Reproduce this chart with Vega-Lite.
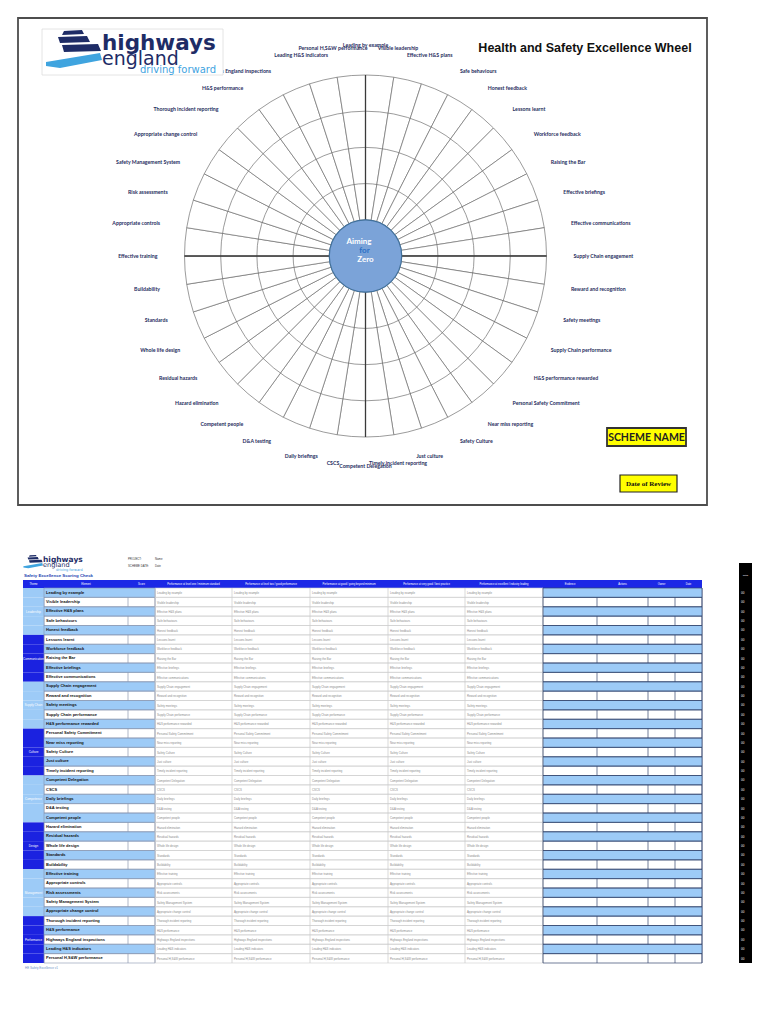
{
"$schema":"https://vega.github.io/schema/vega-lite/v6.json",
"width":768,"height":1024,
"autosize":{"type":"fit","contains":"padding"},
"padding":0,
"background":"white",
"config":{"view":{"stroke":null},"axis":{"disable":true},"legend":{"disable":true}},
"datasets":{
"aspects":[
{"k":0,"name":"Leading by example","grp":1},
{"k":1,"name":"Visible leadership","grp":1},
{"k":2,"name":"Effective H&S plans","grp":1},
{"k":3,"name":"Safe behaviours","grp":1},
{"k":4,"name":"Honest feedback","grp":1},
{"k":5,"name":"Lessons learnt","grp":2},
{"k":6,"name":"Workforce  feedback","grp":2},
{"k":7,"name":"Raising the Bar","grp":2},
{"k":8,"name":"Effective briefings","grp":2},
{"k":9,"name":"Effective communications","grp":2},
{"k":10,"name":"Supply Chain engagement","grp":3},
{"k":11,"name":"Reward and recognition","grp":3},
{"k":12,"name":"Safety meetings","grp":3},
{"k":13,"name":"Supply Chain performance","grp":3},
{"k":14,"name":"H&S performance rewarded","grp":3},
{"k":15,"name":"Personal Safety Commitment","grp":4},
{"k":16,"name":"Near miss reporting","grp":4},
{"k":17,"name":"Safety Culture","grp":4},
{"k":18,"name":"Just culture","grp":4},
{"k":19,"name":"Timely incident reporting","grp":4},
{"k":20,"name":"Competent Delegation","grp":5},
{"k":21,"name":"CSCS","grp":5},
{"k":22,"name":"Daily briefings","grp":5},
{"k":23,"name":"D&A testing","grp":5},
{"k":24,"name":"Competent  people","grp":5},
{"k":25,"name":"Hazard elimination","grp":6},
{"k":26,"name":"Residual hazards","grp":6},
{"k":27,"name":"Whole life design","grp":6},
{"k":28,"name":"Standards","grp":6},
{"k":29,"name":"Buildability","grp":6},
{"k":30,"name":"Effective training","grp":7},
{"k":31,"name":"Appropriate controls","grp":7},
{"k":32,"name":"Risk assessments","grp":7},
{"k":33,"name":"Safety Management System","grp":7},
{"k":34,"name":"Appropriate change control","grp":7},
{"k":35,"name":"Thorough incident reporting","grp":8},
{"k":36,"name":"H&S performance","grp":8},
{"k":37,"name":"Highways England inspections","grp":8},
{"k":38,"name":"Leading H&S indicators","grp":8},
{"k":39,"name":"Personal H,S&W performance","grp":8}
],
"groups":[
{"grp":1,"name":"Leadership","mid":2},
{"grp":2,"name":"Communication","mid":7},
{"grp":3,"name":"Supply Chain","mid":12},
{"grp":4,"name":"Culture","mid":17},
{"grp":5,"name":"Competence","mid":22},
{"grp":6,"name":"Design","mid":27},
{"grp":7,"name":"Management","mid":32},
{"grp":8,"name":"Performance","mid":37}
],
"cols":[
{"col":"A","x0":23,"xm":33.5,"x1":44,"kind":"id","head":"Theme"},
{"col":"B","x0":44,"xm":86,"x1":128,"kind":"id","head":"Element"},
{"col":"C","x0":128,"xm":141.5,"x1":155,"kind":"id","head":"Score"},
{"col":"D","x0":155,"xm":193.5,"x1":232,"kind":"text","head":"Performance at level one / minimum standard"},
{"col":"E","x0":232,"xm":271,"x1":310,"kind":"text","head":"Performance at level two / good performance"},
{"col":"F","x0":310,"xm":349,"x1":388,"kind":"text","head":"Performance at good / going beyond minimum"},
{"col":"G","x0":388,"xm":426.5,"x1":465,"kind":"text","head":"Performance at very good / best practice"},
{"col":"H","x0":465,"xm":504,"x1":543,"kind":"text","head":"Performance at excellent / industry leading"},
{"col":"I","x0":543,"xm":570,"x1":597,"kind":"score","head":"Evidence"},
{"col":"J","x0":597,"xm":622.5,"x1":648,"kind":"score","head":"Actions"},
{"col":"K","x0":648,"xm":661.5,"x1":675,"kind":"score","head":"Owner"},
{"col":"L","x0":675,"xm":688.5,"x1":702,"kind":"score","head":"Date"}
]
},
"resolve":{"scale":{"y":"independent"}},
"layer":[
{
"data":{"values":[{}]},
"layer":[
{"mark":{"type":"rect","fillOpacity":0,"stroke":"#4d4d4d","strokeWidth":1.8},
 "encoding":{"x":{"datum":18,"type":"quantitative","scale":{"domain":[0,768],"nice":false,"zero":false}},"x2":{"datum":707},
 "y":{"datum":18,"type":"quantitative","scale":{"domain":[0,1024],"reverse":true,"nice":false,"zero":false}},"y2":{"datum":505}}},
{"data":{"name":"aspects"},"mark":{"type":"arc","fill":"white","stroke":"#707070","strokeWidth":0.7},
 "encoding":{"x":{"datum":365.5},"y":{"datum":256},
 "theta":{"aggregate":"count","type":"quantitative","scale":{"domain":[0,40]}},
 "detail":{"field":"k"},
 "radius":{"datum":1,"type":"quantitative","scale":{"type":"linear","domain":[0,1],"range":[0,181],"zero":true,"nice":false}},
 "radius2":{"datum":0.2}}},
{"mark":{"type":"arc","theta":0,"theta2":6.2832,"fillOpacity":0,"stroke":"#707070","strokeWidth":0.7},
 "encoding":{"x":{"datum":365.5},"y":{"datum":256},"radius":{"datum":0.4}}},
{"mark":{"type":"arc","theta":0,"theta2":6.2832,"fillOpacity":0,"stroke":"#707070","strokeWidth":0.7},
 "encoding":{"x":{"datum":365.5},"y":{"datum":256},"radius":{"datum":0.6}}},
{"mark":{"type":"arc","theta":0,"theta2":6.2832,"fillOpacity":0,"stroke":"#707070","strokeWidth":0.7},
 "encoding":{"x":{"datum":365.5},"y":{"datum":256},"radius":{"datum":0.8}}},
{"mark":{"type":"rule","color":"#3a3a3a","strokeWidth":1.3},"encoding":{"x":{"datum":184.5},"x2":{"datum":546.5},"y":{"datum":256}}},
{"mark":{"type":"rule","color":"#3a3a3a","strokeWidth":1.3},"encoding":{"x":{"datum":365.5},"y":{"datum":75},"y2":{"datum":437}}},
{"mark":{"type":"arc","theta":0,"theta2":6.2832,"fill":"#7ba3d8","stroke":"#41719c","strokeWidth":1.2},
 "encoding":{"x":{"datum":365.5},"y":{"datum":256},"radius":{"datum":0.2}}},
{"mark":{"type":"text","text":"Aiming","font":"Lato","fontSize":8,"fontWeight":"bold","color":"white"},"encoding":{"x":{"datum":359},"y":{"datum":242}}},
{"mark":{"type":"text","text":"for","font":"Lato","fontSize":8,"fontWeight":"bold","color":"#2a6fc6"},"encoding":{"x":{"datum":364.5},"y":{"datum":251}}},
{"mark":{"type":"text","text":"Zero","font":"Lato","fontSize":8,"fontWeight":"bold","color":"white"},"encoding":{"x":{"datum":365.5},"y":{"datum":260}}},
{"data":{"name":"aspects"},"transform":[{"filter":{"field":"k","oneOf":[38,39,0,1,2]}}],
 "mark":{"type":"text","font":"Lato","fontSize":5.2,"fontWeight":"bold","color":"#1f2d5e","align":"center","baseline":"bottom"},
 "encoding":{"x":{"datum":365.5},"y":{"datum":256},"theta":{"field":"k","type":"quantitative","scale":{"domain":[0,40]}},"radius":{"datum":1.149},"text":{"field":"name"}}},
{"data":{"name":"aspects"},"transform":[{"filter":{"field":"k","range":[18,22]}}],
 "mark":{"type":"text","font":"Lato","fontSize":5.2,"fontWeight":"bold","color":"#1f2d5e","align":"center","baseline":"top"},
 "encoding":{"x":{"datum":365.5},"y":{"datum":256},"theta":{"field":"k","type":"quantitative"},"radius":{"datum":1.149},"text":{"field":"name"}}},
{"data":{"name":"aspects"},"transform":[{"filter":{"field":"k","range":[3,17]}}],
 "mark":{"type":"text","font":"Lato","fontSize":5.2,"fontWeight":"bold","color":"#1f2d5e","align":"left","baseline":"middle"},
 "encoding":{"x":{"datum":365.5},"y":{"datum":256},"theta":{"field":"k","type":"quantitative"},"radius":{"datum":1.149},"text":{"field":"name"}}},
{"data":{"name":"aspects"},"transform":[{"filter":{"field":"k","range":[23,37]}}],
 "mark":{"type":"text","font":"Lato","fontSize":5.2,"fontWeight":"bold","color":"#1f2d5e","align":"right","baseline":"middle"},
 "encoding":{"x":{"datum":365.5},"y":{"datum":256},"theta":{"field":"k","type":"quantitative"},"radius":{"datum":1.149},"text":{"field":"name"}}},
{"mark":{"type":"rect","fill":"white","stroke":"#dddddd","strokeWidth":0.8},"encoding":{"x":{"datum":42},"x2":{"datum":223},"y":{"datum":29},"y2":{"datum":75}}},
{"mark":{"type":"point","shape":"M-0.317,-0.6L0.283,-0.633L0.35,-0.5L-0.383,-0.467ZM-0.517,-0.4L0.45,-0.433L0.55,-0.233L-0.45,-0.2ZM-0.383,-0.133L0.817,-0.167L0.917,0.067L-0.317,0.1Z","filled":true,"color":"#1e2c66","opacity":1,"size":3600,"strokeWidth":0},
 "encoding":{"x":{"datum":73.5},"y":{"datum":49}}},
{"mark":{"type":"point","shape":"M-0.917,0.433L0.883,0.133L0.95,0.367L-0.45,0.633L-0.917,0.567Z","filled":true,"color":"#3fa4df","opacity":1,"size":3600,"strokeWidth":0},
 "encoding":{"x":{"datum":73.5},"y":{"datum":49}}},
{"mark":{"type":"text","text":"highways","font":"DejaVu Sans","fontSize":21.5,"fontWeight":"bold","color":"#1e2c66","align":"left","baseline":"alphabetic"},"encoding":{"x":{"datum":102},"y":{"datum":50}}},
{"mark":{"type":"text","text":"england","font":"DejaVu Sans","fontSize":19,"color":"#1e2c66","align":"left","baseline":"alphabetic"},"encoding":{"x":{"datum":102},"y":{"datum":64.5}}},
{"mark":{"type":"text","text":"driving forward","font":"DejaVu Sans","fontSize":10,"color":"#3fa4df","align":"left","baseline":"alphabetic"},"encoding":{"x":{"datum":140},"y":{"datum":72.5}}},
{"mark":{"type":"text","text":"Health and Safety Excellence Wheel","font":"Liberation Sans","fontSize":12.5,"fontWeight":"bold","color":"#111111","align":"center","baseline":"middle"},"encoding":{"x":{"datum":585},"y":{"datum":48}}},
{"mark":{"type":"rect","fill":"#ffff00","stroke":"#333333","strokeWidth":1.8},"encoding":{"x":{"datum":607},"x2":{"datum":686},"y":{"datum":428},"y2":{"datum":446}}},
{"mark":{"type":"text","text":"SCHEME NAME","font":"Lato","fontSize":10.5,"fontWeight":"bold","color":"#222222","align":"center","baseline":"middle"},"encoding":{"x":{"datum":646.5},"y":{"datum":437.5}}},
{"mark":{"type":"rect","fill":"#ffff00","stroke":"#222222","strokeWidth":1.2},"encoding":{"x":{"datum":620},"x2":{"datum":677},"y":{"datum":475},"y2":{"datum":492}}},
{"mark":{"type":"text","text":"Date of Review","font":"Liberation Serif","fontSize":7,"fontWeight":"bold","color":"#111111","align":"center","baseline":"middle"},"encoding":{"x":{"datum":648.5},"y":{"datum":483.5}}},
{"mark":{"type":"point","shape":"M-0.317,-0.6L0.283,-0.633L0.35,-0.5L-0.383,-0.467ZM-0.517,-0.4L0.45,-0.433L0.55,-0.233L-0.45,-0.2ZM-0.383,-0.133L0.817,-0.167L0.917,0.067L-0.317,0.1Z","filled":true,"color":"#1e2c66","opacity":1,"size":441,"strokeWidth":0},
 "encoding":{"x":{"datum":33},"y":{"datum":561.6}}},
{"mark":{"type":"point","shape":"M-0.917,0.433L0.883,0.133L0.95,0.367L-0.45,0.633L-0.917,0.567Z","filled":true,"color":"#3fa4df","opacity":1,"size":441,"strokeWidth":0},
 "encoding":{"x":{"datum":33},"y":{"datum":561.6}}},
{"mark":{"type":"text","text":"highways","font":"DejaVu Sans","fontSize":7.5,"fontWeight":"bold","color":"#1e2c66","align":"left","baseline":"alphabetic"},"encoding":{"x":{"datum":43},"y":{"datum":562}}},
{"mark":{"type":"text","text":"england","font":"DejaVu Sans","fontSize":6.6,"color":"#1e2c66","align":"left","baseline":"alphabetic"},"encoding":{"x":{"datum":43},"y":{"datum":567.3}}},
{"mark":{"type":"text","text":"driving forward","font":"DejaVu Sans","fontSize":3.5,"color":"#3fa4df","align":"left","baseline":"alphabetic"},"encoding":{"x":{"datum":56},"y":{"datum":571}}},
{"mark":{"type":"text","text":"Safety Excellence Scoring Check","font":"Liberation Sans","fontSize":4.4,"fontWeight":"bold","color":"#1a3fb0","align":"left","baseline":"alphabetic"},"encoding":{"x":{"datum":24},"y":{"datum":577}}},
{"mark":{"type":"text","text":"PROJECT:","font":"Liberation Sans","fontSize":2.8,"color":"#333333","align":"left"},"encoding":{"x":{"datum":128},"y":{"datum":559}}},
{"mark":{"type":"text","text":"Name","font":"Liberation Sans","fontSize":2.8,"color":"#333333","align":"left"},"encoding":{"x":{"datum":155},"y":{"datum":559}}},
{"mark":{"type":"text","text":"SCHEME DATE:","font":"Liberation Sans","fontSize":2.8,"color":"#333333","align":"left"},"encoding":{"x":{"datum":128},"y":{"datum":566}}},
{"mark":{"type":"text","text":"Date","font":"Liberation Sans","fontSize":2.8,"color":"#333333","align":"left"},"encoding":{"x":{"datum":155},"y":{"datum":566}}},
{"mark":{"type":"rect","fill":"#1c28e6","strokeWidth":0},"encoding":{"x":{"datum":23},"x2":{"datum":702},"y":{"datum":580},"y2":{"datum":588}}},
{"data":{"name":"cols"},"mark":{"type":"text","font":"Liberation Sans","fontSize":2.6,"color":"white","align":"center","baseline":"middle"},
 "encoding":{"x":{"field":"xm","type":"quantitative"},"y":{"datum":584},"text":{"field":"head"}}},
{"data":{"name":"cols"},"mark":{"type":"rule","strokeWidth":0.7},
 "encoding":{"x":{"field":"x1","type":"quantitative"},"y":{"datum":588},"y2":{"datum":963},
 "stroke":{"field":"kind","type":"nominal","scale":{"domain":["id","text","score"],"range":["#8e9ab0","#c8c8c8","#34466e"]}}}},
{"mark":{"type":"text","text":"HE Safety Excellence v1","font":"Liberation Sans","fontSize":3,"color":"#6b8fc7","align":"left"},"encoding":{"x":{"datum":25},"y":{"datum":968}}},
{"mark":{"type":"rect","fill":"black","strokeWidth":0},"encoding":{"x":{"datum":739},"x2":{"datum":752},"y":{"datum":563},"y2":{"datum":963}}},
{"mark":{"type":"text","text":"Total","font":"Liberation Sans","fontSize":2.5,"color":"white","align":"center"},"encoding":{"x":{"datum":745.5},"y":{"datum":575}}}
]
},
{
"data":{"name":"aspects"},
"layer":[
{"mark":{"type":"rect","strokeWidth":0},
 "encoding":{"x":{"datum":23},"x2":{"datum":44},
 "y":{"field":"k","type":"ordinal","scale":{"type":"band","domain":[0,1,2,3,4,5,6,7,8,9,10,11,12,13,14,15,16,17,18,19,20,21,22,23,24,25,26,27,28,29,30,31,32,33,34,35,36,37,38,39],"range":[588,963],"paddingInner":0,"paddingOuter":0}},
 "fill":{"field":"grp","type":"ordinal","scale":{"domain":[1,2,3,4,5,6,7,8],"range":["#9dcbf7","#1b22e0","#9dcbf7","#1b22e0","#9dcbf7","#1b22e0","#9dcbf7","#1b22e0"]}}}},
{"transform":[{"filter":"datum.k % 2 == 0"}],"mark":{"type":"rect","fill":"#9dcbf7","strokeWidth":0},
 "encoding":{"x":{"datum":44},"x2":{"datum":155},"y":{"field":"k","type":"ordinal"}}},
{"transform":[{"filter":"datum.k % 2 == 0"}],"mark":{"type":"rect","fill":"#9dcbf7","strokeWidth":0},
 "encoding":{"x":{"datum":543},"x2":{"datum":702},"y":{"field":"k","type":"ordinal"}}},
{"mark":{"type":"rect","fillOpacity":0,"stroke":"#8796b0","strokeWidth":0.6},
 "encoding":{"x":{"datum":44},"x2":{"datum":155},"y":{"field":"k","type":"ordinal"}}},
{"mark":{"type":"rect","fillOpacity":0,"stroke":"#cccccc","strokeWidth":0.6},
 "encoding":{"x":{"datum":155},"x2":{"datum":543},"y":{"field":"k","type":"ordinal"}}},
{"mark":{"type":"rect","fillOpacity":0,"stroke":"#34466e","strokeWidth":0.7},
 "encoding":{"x":{"datum":543},"x2":{"datum":702},"y":{"field":"k","type":"ordinal"}}},
{"mark":{"type":"text","font":"Liberation Sans","fontSize":4,"fontWeight":"bold","color":"#111111","align":"left","baseline":"middle"},
 "encoding":{"x":{"datum":46},"y":{"field":"k","type":"ordinal"},"text":{"field":"name"}}},
{"mark":{"type":"text","font":"Liberation Sans","fontSize":2.8,"color":"#8a8a8a","align":"left","baseline":"middle"},
 "encoding":{"x":{"datum":157},"y":{"field":"k","type":"ordinal"},"text":{"field":"name"}}},
{"mark":{"type":"text","font":"Liberation Sans","fontSize":2.8,"color":"#8a8a8a","align":"left","baseline":"middle"},
 "encoding":{"x":{"datum":234},"y":{"field":"k","type":"ordinal"},"text":{"field":"name"}}},
{"mark":{"type":"text","font":"Liberation Sans","fontSize":2.8,"color":"#8a8a8a","align":"left","baseline":"middle"},
 "encoding":{"x":{"datum":312},"y":{"field":"k","type":"ordinal"},"text":{"field":"name"}}},
{"mark":{"type":"text","font":"Liberation Sans","fontSize":2.8,"color":"#8a8a8a","align":"left","baseline":"middle"},
 "encoding":{"x":{"datum":390},"y":{"field":"k","type":"ordinal"},"text":{"field":"name"}}},
{"mark":{"type":"text","font":"Liberation Sans","fontSize":2.8,"color":"#8a8a8a","align":"left","baseline":"middle"},
 "encoding":{"x":{"datum":467},"y":{"field":"k","type":"ordinal"},"text":{"field":"name"}}},
{"mark":{"type":"text","text":"00","font":"Liberation Sans","fontSize":3,"color":"white","align":"left","baseline":"middle"},
 "encoding":{"x":{"datum":741},"y":{"field":"k","type":"ordinal"}}},
{"data":{"name":"groups"},"mark":{"type":"text","font":"Liberation Sans","fontSize":3,"color":"white","align":"center","baseline":"middle"},
 "encoding":{"x":{"datum":33.5},"y":{"field":"mid","type":"ordinal"},"text":{"field":"name"}}}
]
}
]
}
